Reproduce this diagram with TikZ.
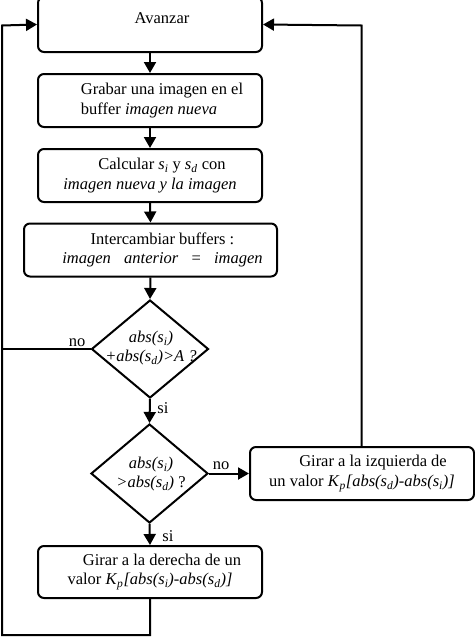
\documentclass[tikz,border=0pt]{standalone}
\usepackage{fontspec}
\setmainfont{Liberation Serif}
\usetikzlibrary{shapes.geometric,arrows.meta}
\newcommand{\sv}[1]{\textit{s}\textsubscript{\textit{#1}}}
\newcommand{\kp}{\textit{K}\textsubscript{\textit{p}}}

\begin{document}
\begin{tikzpicture}[x=1pt,y=1pt,
    caja/.style={draw,line width=2pt,rounded corners=6pt,minimum width=224pt,
      minimum height=53pt,align=center,inner sep=2pt},
    rombo/.style={draw,diamond,line width=2pt,minimum width=117pt,
      minimum height=98pt,inner sep=0pt},
    flecha/.style={line width=2pt,-{Triangle[length=11pt,width=12pt]}},
    linea/.style={line width=2pt},
    etiq/.style={inner sep=0pt},
    font=\fontsize{16.5}{19.5}\selectfont]
  \useasboundingbox (0,0) rectangle (474,-637);

  % cajas
  \node[caja,minimum height=55pt,text depth=12pt] (av) at (150,-24.5) {\hspace*{24pt}Avanzar};
  \node[caja,align=left] (grab) at (150,-100.5)
    {\hspace*{24pt}Grabar una imagen en el\\\hspace*{24pt}buffer \textit{imagen nueva}};
  \node[caja] (calc) at (150,-175.5)
    {\hspace*{24pt}Calcular \sv{i} y \sv{d} con\\\textit{imagen nueva y la imagen}};
  \node[caja,minimum width=253pt] (inter) at (150.5,-250)
    {\hspace*{24pt}Intercambiar buffers :\\
     \hspace*{24pt}\textit{imagen}\hspace{0.8em}\textit{anterior}\hspace{0.8em}=\hspace{0.8em}\textit{imagen}};
  \node[rombo] (qa) at (150,-349) {};
  \node[align=center,font=\fontsize{16.5}{19}\selectfont\itshape] (qatxt) at (151,-348)
    {abs(\sv{i})\\+abs(\sv{d})>A ?};
  \node[rombo,minimum height=99pt] (qb) at (149.5,-473.5) {};
  \node[align=center,font=\fontsize{16.5}{19}\selectfont\itshape] (qbtxt) at (151,-474)
    {abs(\sv{i})\\>abs(\sv{d}) {\upshape ?}};
  \node[caja] (izq) at (362,-473.5)
    {\hspace*{22pt}Girar a la izquierda de\\un valor \kp\textit{[abs(\sv{d})-abs(\sv{i})]}};
  \node[caja,minimum height=52pt] (der) at (150,-572)
    {\hspace*{24pt}Girar a la derecha de un\\valor \kp\textit{[abs(\sv{i})-abs(\sv{d})]}};

  % etiquetas
  \node[etiq] (noa) at (77,-343) {no};
  \node[etiq] (sia) at (163,-408) {si};
  \node[etiq] (nob) at (221,-466) {no};
  \node[etiq] (sib) at (168,-536) {si};

  % puntos de retorno
  \coordinate (abajo) at (2,-635);
  \coordinate (arriba) at (2,-25.5);
  \coordinate (dabajo) at (150,-635);
  \coordinate (darriba) at (361.5,-25.5);

  % conexiones
  \foreach \a / \b in {av/grab, grab/calc, calc/inter, inter/qa, qa/qb, qb/der}{
    \draw[flecha] (\a.south) -- (\b.north);
  }
  \draw[flecha] (qb.east) -- (izq.west);
  \draw[linea] (qa.west) -- (qa.west -| abajo);
  \draw[flecha] (der.south) -- (dabajo) -- (abajo) -- (arriba) -- (av.west);
  \draw[flecha] (izq.north -| darriba) -- (darriba) -- (av.east);
\end{tikzpicture}
\end{document}
